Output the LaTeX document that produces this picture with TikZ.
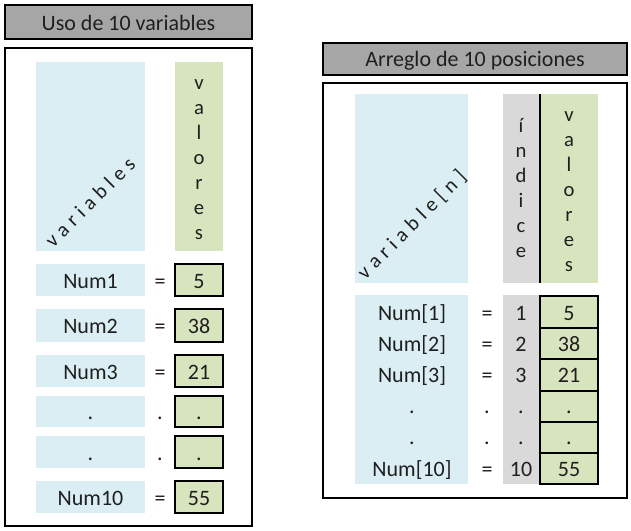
\documentclass[tikz,border=0pt]{standalone}
\usepackage{fontspec}
\setmainfont{Carlito}
\usepackage{tikz}
\definecolor{celeste}{HTML}{DAEEF3}
\definecolor{verdeclaro}{HTML}{D7E4BD}
\definecolor{grisclaro}{HTML}{D9D9D9}
\definecolor{grisoscuro}{HTML}{A6A6A6}
\definecolor{tinta}{HTML}{1F1F1F}
\tikzset{
  titulo/.style={draw=black,line width=2.2pt,fill=grisoscuro},
  marco/.style={draw=black,line width=2.2pt},
  celda/.style={draw=black,line width=1.1pt,fill=verdeclaro},
  txt/.style={inner sep=0pt,anchor=base,text=tinta,font=\fontsize{16.5}{19}\selectfont},
  vert/.style={inner sep=0pt,align=center,text=tinta,font=\fontsize{15.5}{18.75}\selectfont},
  diag/.style={inner sep=0pt,rotate=45,text=tinta,font=\fontsize{15.5}{18}\selectfont\addfontfeatures{LetterSpace=26}}
}
\begin{document}
\begin{tikzpicture}[x=0.75pt,y=-0.75pt]
\useasboundingbox (0,0) rectangle (631,531);
% variables sueltas
\draw[titulo] (5,5) rectangle (252,39);
\node[txt] (tit1) at (128.5,31) {Uso de 10 variables};
\draw[marco] (5,48) rectangle (252,526);
\fill[celeste] (36,62) rectangle (145,251);
\fill[verdeclaro] (175,62) rectangle (223,251);
\node[diag] (var1) at (90,202) {variables};
\node[vert] (val1) at (199,160) {v\\a\\l\\o\\r\\e\\s};
\fill[celeste] (36,264) rectangle (145,296);
\draw[celda] (175,264) rectangle (223,296);
\node[txt] (n1) at (90.5,288) {Num1};
\node[txt] (e1) at (160,288) {=};
\node[txt] (v1) at (199,288) {5};
\fill[celeste] (36,309) rectangle (145,342);
\draw[celda] (175,309) rectangle (223,342);
\node[txt] (n2) at (90.5,333.5) {Num2};
\node[txt] (e2) at (160,333.5) {=};
\node[txt] (v2) at (199,333.5) {38};
\fill[celeste] (36,355) rectangle (145,387);
\draw[celda] (175,355) rectangle (223,387);
\node[txt] (n3) at (90.5,379) {Num3};
\node[txt] (e3) at (160,379) {=};
\node[txt] (v3) at (199,379) {21};
\fill[celeste] (36,396) rectangle (145,427);
\draw[celda] (175,396) rectangle (223,427);
\node[txt] (n4) at (90.5,419.5) {.};
\node[txt] (e4) at (160,419.5) {.};
\node[txt] (v4) at (199,419.5) {.};
\fill[celeste] (36,436) rectangle (145,468);
\draw[celda] (175,436) rectangle (223,468);
\node[txt] (n5) at (90.5,460) {.};
\node[txt] (e5) at (160,460) {.};
\node[txt] (v5) at (199,460) {.};
\fill[celeste] (36,481) rectangle (145,513);
\draw[celda] (175,481) rectangle (223,513);
\node[txt] (n6) at (90.5,505) {Num10};
\node[txt] (e6) at (160,505) {=};
\node[txt] (v6) at (199,505) {55};
% arreglo
\draw[titulo] (323,43) rectangle (627,75);
\node[txt] (tit2) at (475,67) {Arreglo de 10 posiciones};
\draw[marco] (323,83) rectangle (627,498);
\fill[celeste] (355,94) rectangle (468,283);
\fill[grisclaro] (503,94) rectangle (539,283);
\fill[verdeclaro] (540,94) rectangle (598,283);
\draw[line width=1.1pt] (540,94) -- (540,283);
\node[diag] (var2) at (412,225) {variable[n]};
\node[vert] (ind) at (521,188) {í\\n\\d\\i\\c\\e};
\node[vert] (val2) at (569,192) {v\\a\\l\\o\\r\\e\\s};
\fill[celeste] (355,295) rectangle (468,484);
\fill[grisclaro] (503,295) rectangle (539,484);
\draw[celda] (540,296) rectangle (598,328);
\draw[celda] (540,328) rectangle (598,359);
\draw[celda] (540,359) rectangle (598,391);
\draw[celda] (540,391) rectangle (598,422);
\draw[celda] (540,422) rectangle (598,453);
\draw[celda] (540,453) rectangle (598,484);
\node[txt] (a1) at (412,320) {Num[1]};
\node[txt] (b1) at (487,320) {=};
\node[txt] (i1) at (521,320) {1};
\node[txt] (c1) at (569,320) {5};
\node[txt] (a2) at (412,351) {Num[2]};
\node[txt] (b2) at (487,351) {=};
\node[txt] (i2) at (521,351) {2};
\node[txt] (c2) at (569,351) {38};
\node[txt] (a3) at (412,382) {Num[3]};
\node[txt] (b3) at (487,382) {=};
\node[txt] (i3) at (521,382) {3};
\node[txt] (c3) at (569,382) {21};
\node[txt] (a4) at (412,413) {.};
\node[txt] (b4) at (487,413) {.};
\node[txt] (i4) at (521,413) {.};
\node[txt] (c4) at (569,413) {.};
\node[txt] (a5) at (412,444) {.};
\node[txt] (b5) at (487,444) {.};
\node[txt] (i5) at (521,444) {.};
\node[txt] (c5) at (569,444) {.};
\node[txt] (a6) at (412,476) {Num[10]};
\node[txt] (b6) at (487,476) {=};
\node[txt] (i6) at (521,476) {10};
\node[txt] (c6) at (569,476) {55};
\end{tikzpicture}
\end{document}
